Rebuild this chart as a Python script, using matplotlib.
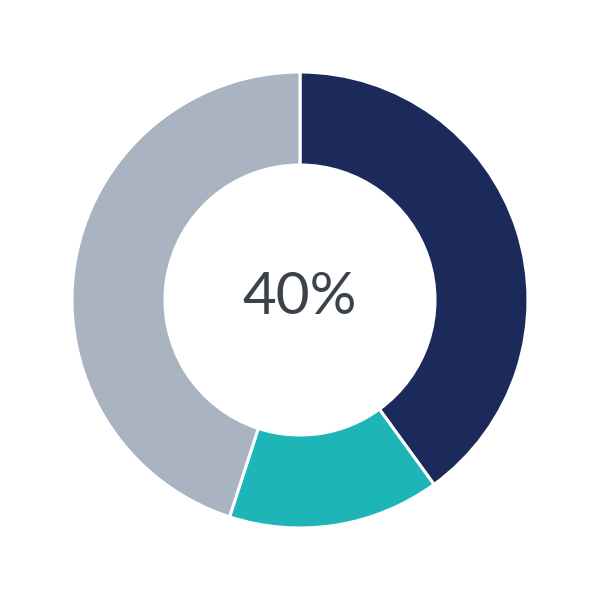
import matplotlib.pyplot as plt

labels = ['Navy', 'Teal', 'Grey']
shares = [40, 15, 45]
colors = ['#1b2a5a', '#1db5b7', '#a9b3c1']
center_label = '40%'

fig = plt.figure(figsize=(6, 6), dpi=100)
ax = fig.add_axes([0, 0, 1, 1])

outer = 1.0
inner = 135 / 228
ax.pie(shares, colors=colors, startangle=90, counterclock=False,
       radius=outer,
       wedgeprops=dict(width=outer - inner, edgecolor='white', linewidth=2.2))

ax.text(0, 0.01, center_label, ha='center', va='center',
        fontsize=42, family=['Lato', 'DejaVu Sans'], fontweight='normal',
        color='#3b424a')

lim = 300 / 228
ax.set_xlim(-lim, lim)
ax.set_ylim(-lim, lim)
ax.set_aspect('equal')
ax.axis('off')

fig.savefig('out.png', dpi=100, facecolor='white')
